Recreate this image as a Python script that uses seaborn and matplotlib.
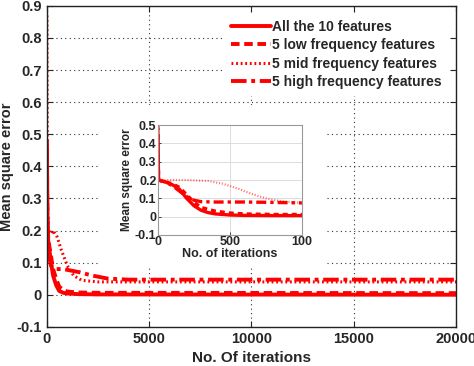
import matplotlib
matplotlib.use("Agg")
import matplotlib.pyplot as plt
import seaborn as sns
from matplotlib.patches import Rectangle

# main plot data (iterations 0..20000)
all_x = [0, 20, 60, 120, 200, 300, 450, 600, 800, 1000, 1500, 2500, 20000]
all_y = [0.48, 0.25, 0.17, 0.14, 0.1, 0.06, 0.03, 0.012, 0.006, 0.004, 0.002, 0.001, 0.0]
low_x = [0, 20, 60, 120, 200, 300, 450, 600, 800, 1000, 1500, 2500, 20000]
low_y = [0.45, 0.24, 0.18, 0.15, 0.12, 0.08, 0.05, 0.025, 0.015, 0.01, 0.007, 0.006, 0.005]
mid_x = [0, 20, 80, 200, 300, 500, 700, 1000, 1300, 1700, 2500, 20000]
mid_y = [0.87, 0.3, 0.2, 0.19, 0.2, 0.18, 0.14, 0.09, 0.06, 0.045, 0.04, 0.04]
high_x = [0, 20, 80, 200, 400, 800, 1200, 1600, 2200, 3000, 4000, 20000]
high_y = [0.4, 0.22, 0.13, 0.09, 0.08, 0.08, 0.075, 0.07, 0.06, 0.05, 0.047, 0.047]

# inset data (iterations 0..1000)
in_all_x = [0, 5, 50, 100, 150, 200, 250, 300, 350, 400, 500, 600, 800, 1000]
in_all_y = [0.48, 0.2, 0.19, 0.175, 0.15, 0.1, 0.06, 0.035, 0.022, 0.015, 0.009, 0.007, 0.006, 0.006]
in_low_x = [0, 5, 50, 100, 150, 200, 250, 300, 400, 500, 600, 800, 1000]
in_low_y = [0.5, 0.2, 0.19, 0.18, 0.16, 0.12, 0.08, 0.05, 0.03, 0.02, 0.015, 0.012, 0.012]
in_mid_x = [0, 5, 50, 200, 350, 450, 550, 650, 750, 850, 1000]
in_mid_y = [0.5, 0.2, 0.2, 0.2, 0.195, 0.18, 0.155, 0.125, 0.1, 0.085, 0.075]
in_high_x = [0, 5, 50, 100, 150, 200, 250, 300, 400, 600, 800, 1000]
in_high_y = [0.45, 0.2, 0.19, 0.17, 0.14, 0.11, 0.09, 0.082, 0.08, 0.08, 0.078, 0.075]

labels = ["All the 10 features", "5 low frequency features",
          "5 mid frequency features", "5 high frequency features"]
xticks_main = [0, 5000, 10000, 15000, 20000]
yticks_main = [-0.1, 0, 0.1, 0.2, 0.3, 0.4, 0.5, 0.6, 0.7, 0.8, 0.9]
yticklabels_main = ["-0.1", "0", "0.1", "0.2", "0.3", "0.4", "0.5", "0.6", "0.7", "0.8", "0.9"]
xticks_in = [0, 500, 1000]
xticklabels_in = ["0", "500", "100"]
yticks_in = [-0.1, 0, 0.1, 0.2, 0.3, 0.4, 0.5]
yticklabels_in = ["-0.1", "0", "0.1", "0.2", "0.3", "0.4", "0.5"]

sns.set_style("ticks")
plt.rcParams['font.family'] = ['Liberation Sans', 'DejaVu Sans']
plt.rcParams['font.weight'] = 'bold'

red = "#ff0000"
styles = [dict(linestyle="-", lw=2.8),
          dict(linestyle=(0, (2.2, 1.2)), lw=2.8),
          dict(linestyle=(0, (0.6, 0.9)), lw=2.2),
          dict(linestyle=(0, (4, 1.2, 1, 1.2)), lw=2.8)]

fig = plt.figure(figsize=(4.74, 3.66), dpi=100)
ax = fig.add_axes([0.099, 0.107, 0.863, 0.877])
ax.set_zorder(0)

series = [(all_x, all_y), (low_x, low_y), (mid_x, mid_y), (high_x, high_y)]
for (xs, ys), lab, st in zip(series, labels, styles):
    sns.lineplot(x=xs, y=ys, ax=ax, color=red, label=lab, **st)

ax.set_xlim(0, 20000)
ax.set_ylim(-0.1, 0.9)
ax.set_xticks(xticks_main)
ax.set_yticks(yticks_main)
ax.set_yticklabels(yticklabels_main)
ax.tick_params(direction="in", top=True, right=True, labelsize=10.5, length=4, width=0.8)
for lab in ax.get_xticklabels() + ax.get_yticklabels():
    lab.set_fontweight("bold")
ax.grid(True, color="#333333", linestyle=(0, (1, 3)), linewidth=0.8)
for s in ax.spines.values():
    s.set_linewidth(1.0)
    s.set_color("#222222")
ax.set_xlabel("No. Of iterations", fontsize=11, fontweight="bold", labelpad=4)
ax.set_ylabel("Mean square error", fontsize=10.5, fontweight="bold", labelpad=2)

leg = ax.legend(loc="upper right", fontsize=10, frameon=True, fancybox=False,
                handlelength=2.9, handletextpad=0.1, labelspacing=0.32,
                borderpad=0.5, bbox_to_anchor=(1.0, 1.0))
leg.get_frame().set_edgecolor("none")
leg.get_frame().set_facecolor("white")
leg.get_frame().set_alpha(1)
for t in leg.get_texts():
    t.set_fontweight("bold")

# white patch behind the inset (covers main grid)
patch = Rectangle((100 / 474, 1 - 268 / 366), 225 / 474, 163 / 366,
                  transform=fig.transFigure, facecolor="white", edgecolor="none", zorder=1)
fig.add_artist(patch)

axin = fig.add_axes([0.333, 0.358, 0.304, 0.30])
axin.set_zorder(2)
in_series = [(in_all_x, in_all_y), (in_low_x, in_low_y), (in_mid_x, in_mid_y), (in_high_x, in_high_y)]
in_styles = [dict(linestyle="-", lw=2.4),
             dict(linestyle=(0, (1.5, 1.2)), lw=2.4),
             dict(linestyle=(0, (0.5, 0.8)), lw=1.6, alpha=0.55),
             dict(linestyle=(0, (3, 1.2, 1, 1.2)), lw=2.4)]
for (xs, ys), st in zip(in_series, in_styles):
    sns.lineplot(x=xs, y=ys, ax=axin, color=red, legend=False, **st)
axin.set_xlim(0, 1000)
axin.set_ylim(-0.1, 0.5)
axin.set_xticks(xticks_in)
axin.set_xticklabels(xticklabels_in)
axin.set_yticks(yticks_in)
axin.set_yticklabels(yticklabels_in)
axin.tick_params(direction="in", labelsize=9, length=2, width=0.6, pad=1)
for lab in axin.get_xticklabels() + axin.get_yticklabels():
    lab.set_fontweight("bold")
axin.grid(True, color="#dddddd", linewidth=0.7)
for s in axin.spines.values():
    s.set_color("#999999")
    s.set_linewidth(0.8)
axin.set_xlabel("No. of iterations", fontsize=9, fontweight="bold", labelpad=0)
axin.set_ylabel("Mean square error", fontsize=8.5, fontweight="bold", labelpad=1)

fig.savefig("out.png", dpi=100)
